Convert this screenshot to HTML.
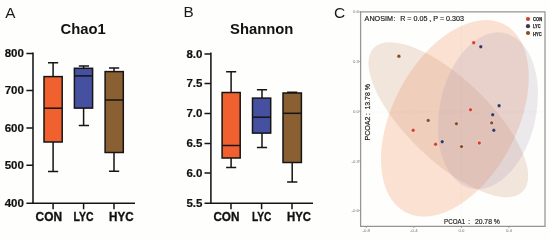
<!DOCTYPE html>
<html><head><meta charset="utf-8">
<style>
html,body{margin:0;padding:0;background:#fefefc;}
svg{display:block;font-family:"Liberation Sans",sans-serif;will-change:transform;}
</style></head>
<body>
<svg width="550" height="236" viewBox="0 0 550 236">
<rect width="550" height="236" fill="#fefefc"/>
<!-- Panel A -->
<text x="5.2" y="17.5" font-size="15.3" fill="#1a1a1a">A</text>
<text x="83.2" y="33.8" font-size="14.8" font-weight="bold" text-anchor="middle" fill="#111">Chao1</text>
<g stroke="#151515" fill="none">
<path d="M33 52.5 V203.9" stroke-width="1.55"/>
<path d="M32.2 203.2 H135" stroke-width="1.45"/>
<path d="M26.4 53.4 H33 M26.4 90.6 H33 M26.4 127.9 H33 M26.4 165.3 H33 M26.4 203.2 H33" stroke-width="1.5"/>
<path d="M53.1 203.2 V209.2 M83.6 203.2 V209.2 M114 203.2 V209.2" stroke-width="1.5"/>
</g>
<g font-size="11.5" font-weight="bold" text-anchor="end" fill="#111" stroke="#111" stroke-width="0.2">
<text x="23.9" y="57.4">800</text>
<text x="23.9" y="94.3">700</text>
<text x="23.9" y="131.5">600</text>
<text x="23.9" y="169">500</text>
<text x="23.9" y="206.8">400</text>
</g>
<g font-size="12.8" font-weight="bold" fill="#111" stroke="#111" stroke-width="0.35">
<text x="35.6" y="221.4" textLength="26.4" lengthAdjust="spacingAndGlyphs">CON</text>
<text x="73.6" y="221.4" textLength="20" lengthAdjust="spacingAndGlyphs">LYC</text>
<text x="109" y="221.4" textLength="24.6" lengthAdjust="spacingAndGlyphs">HYC</text>
</g>
<g stroke="#151515" stroke-width="1.5">
<!-- CON A -->
<path d="M53.1 62.7 V76.6 M48 62.7 H58.2 M53.1 142 V171.6 M48 171.6 H58.2"/>
<rect x="44" y="76.6" width="18.2" height="65.4" fill="#F0612F"/>
<path d="M44 108.2 H62.2"/>
<!-- LYC A -->
<path d="M83.6 66 V68.3 M78.8 66 H89 M83.6 108.1 V125.5 M78.8 125.5 H89"/>
<rect x="74.4" y="68.3" width="18.2" height="39.8" fill="#4650A0"/>
<path d="M74.4 75.9 H92.6"/>
<!-- HYC A -->
<path d="M114 68.1 V71.6 M109 68.1 H119.2 M114 152.5 V171.2 M109 171.2 H119.2"/>
<rect x="105.1" y="71.6" width="18.2" height="80.9" fill="#8A5F32"/>
<path d="M105.1 100 H123.3"/>
</g>

<!-- Panel B -->
<text x="183.6" y="17.4" font-size="15.3" fill="#1a1a1a">B</text>
<text x="261.7" y="33.5" font-size="14.8" font-weight="bold" text-anchor="middle" fill="#111">Shannon</text>
<g stroke="#151515" fill="none">
<path d="M210.9 52.5 V203.9" stroke-width="1.55"/>
<path d="M210.1 203.2 H313" stroke-width="1.45"/>
<path d="M204.5 53.9 H210.8 M204.5 83.6 H210.8 M204.5 113.4 H210.8 M204.5 143.5 H210.8 M204.5 173.1 H210.8 M204.5 203.2 H210.8" stroke-width="1.5"/>
<path d="M231 203.2 V209.2 M261.6 203.2 V209.2 M292 203.2 V209.2" stroke-width="1.5"/>
</g>
<g font-size="11.5" font-weight="bold" text-anchor="end" fill="#111" stroke="#111" stroke-width="0.2">
<text x="202.4" y="57.5">8.0</text>
<text x="202.4" y="87.2">7.5</text>
<text x="202.4" y="117">7.0</text>
<text x="202.4" y="147.1">6.5</text>
<text x="202.4" y="176.7">6.0</text>
<text x="202.4" y="207">5.5</text>
</g>
<g font-size="12.8" font-weight="bold" fill="#111" stroke="#111" stroke-width="0.35">
<text x="213.4" y="221.4" textLength="26" lengthAdjust="spacingAndGlyphs">CON</text>
<text x="252" y="221.4" textLength="19.4" lengthAdjust="spacingAndGlyphs">LYC</text>
<text x="287" y="221.4" textLength="24" lengthAdjust="spacingAndGlyphs">HYC</text>
</g>
<g stroke="#151515" stroke-width="1.5">
<path d="M231.1 71.7 V92.5 M226.1 71.7 H236.2 M231.1 158 V167.5 M226.1 167.5 H236.2"/>
<rect x="222.1" y="92.5" width="18.1" height="65.5" fill="#F0612F"/>
<path d="M222.1 145.5 H240.2"/>
<path d="M262 89.7 V98.1 M256.9 89.7 H267.1 M262 133.1 V147.6 M256.9 147.6 H267.1"/>
<rect x="252.5" y="98.1" width="18.2" height="35" fill="#4650A0"/>
<path d="M252.5 117.2 H270.7"/>
<path d="M292.2 92.3 V93 M287.1 92.3 H297.3 M292.2 162.5 V182 M287.1 182 H297.3"/>
<rect x="283" y="93" width="18.4" height="69.5" fill="#8A5F32"/>
<path d="M283 113.3 H301.4"/>
</g>

<!-- Panel C -->
<text x="334" y="17.6" font-size="15.5" fill="#1a1a1a">C</text>
<g>
<ellipse cx="454.9" cy="118.3" rx="62.2" ry="106.1" transform="rotate(27.7 454.9 118.3)" fill="#F6A072" fill-opacity="0.3"/>
<ellipse cx="448.3" cy="119.7" rx="103.5" ry="40.9" transform="rotate(43.8 448.3 119.7)" fill="#C69276" fill-opacity="0.23"/>
<ellipse cx="487.9" cy="110.7" rx="48.3" ry="79.5" transform="rotate(12 487.9 110.7)" fill="#9C8AAA" fill-opacity="0.18"/>
</g>
<path d="M361 112 H545 M461.4 12 V226" stroke="#9a8a80" stroke-opacity="0.18" stroke-width="0.6" stroke-dasharray="1.2 1.2" fill="none"/>
<path d="M360.6 11.8 H545 V226.4 H360.6 Z" stroke="#959595" stroke-width="1.25" fill="none"/>
<g stroke="#858585" stroke-width="0.8">
<path d="M359.2 11.8 H360.6 M359.2 61.5 H360.6 M359.2 111.2 H360.6 M359.2 160.9 H360.6 M359.2 210.6 H360.6"/>
<path d="M366.3 226.4 V228 M413.9 226.4 V228 M461.4 226.4 V228 M508.9 226.4 V228"/>
</g>
<g>
<circle cx="473.7" cy="42.7" r="1.95" fill="#D83A2C" stroke="#fff" stroke-opacity="0.5" stroke-width="0.9"/>
<circle cx="480.8" cy="46.8" r="1.95" fill="#3B3658" stroke="#fff" stroke-opacity="0.5" stroke-width="0.9"/>
<circle cx="398.9" cy="56.2" r="1.95" fill="#8A4A26" stroke="#fff" stroke-opacity="0.5" stroke-width="0.9"/>
<circle cx="470.5" cy="109.8" r="1.95" fill="#D83A2C" stroke="#fff" stroke-opacity="0.5" stroke-width="0.9"/>
<circle cx="499.1" cy="105.7" r="1.95" fill="#3B3658" stroke="#fff" stroke-opacity="0.5" stroke-width="0.9"/>
<circle cx="492.7" cy="114.8" r="1.95" fill="#3B3658" stroke="#fff" stroke-opacity="0.5" stroke-width="0.9"/>
<circle cx="491.7" cy="122.9" r="1.95" fill="#8A4A26" stroke="#fff" stroke-opacity="0.5" stroke-width="0.9"/>
<circle cx="493.8" cy="130.3" r="1.95" fill="#3B3658" stroke="#fff" stroke-opacity="0.5" stroke-width="0.9"/>
<circle cx="428.2" cy="120.4" r="1.95" fill="#8A4A26" stroke="#fff" stroke-opacity="0.5" stroke-width="0.9"/>
<circle cx="456.4" cy="123.8" r="1.95" fill="#8A4A26" stroke="#fff" stroke-opacity="0.5" stroke-width="0.9"/>
<circle cx="413.2" cy="130.3" r="1.95" fill="#D83A2C" stroke="#fff" stroke-opacity="0.5" stroke-width="0.9"/>
<circle cx="435.6" cy="144.3" r="1.95" fill="#D83A2C" stroke="#fff" stroke-opacity="0.5" stroke-width="0.9"/>
<circle cx="442.2" cy="141.7" r="1.95" fill="#3B3658" stroke="#fff" stroke-opacity="0.5" stroke-width="0.9"/>
<circle cx="461.5" cy="146.6" r="1.95" fill="#8A4A26" stroke="#fff" stroke-opacity="0.5" stroke-width="0.9"/>
<circle cx="479.3" cy="143" r="1.95" fill="#D83A2C" stroke="#fff" stroke-opacity="0.5" stroke-width="0.9"/>
</g>
<g fill="#1a1a1a" font-size="7.2" stroke="#1a1a1a" stroke-width="0.18">
<text x="364.6" y="20.8">ANOSIM<tspan x="393.6">:</tspan></text>
<text x="400.2" y="20.8" textLength="63.8" lengthAdjust="spacingAndGlyphs">R = 0.05 , P = 0.303</text>
<g font-size="7.9">
<text x="444.1" y="223.8" textLength="21.1" lengthAdjust="spacingAndGlyphs">PCOA1</text>
<text x="468" y="223.8">:</text>
<text x="474.9" y="223.8" textLength="25" lengthAdjust="spacingAndGlyphs">20.78 %</text>
<g transform="translate(370.4 140.5) rotate(-90)">
<text x="0" y="0" textLength="24" lengthAdjust="spacingAndGlyphs">PCOA2</text>
<text x="25.3" y="0">:</text>
<text x="31" y="0" textLength="25.4" lengthAdjust="spacingAndGlyphs">13.78 %</text>
</g>
</g>
</g>
<g>
<circle cx="528" cy="19" r="2.1" fill="#D83A2C"/>
<circle cx="528" cy="26.2" r="2.1" fill="#3B3658"/>
<circle cx="528" cy="33" r="2.1" fill="#8A4A26"/>
</g>
<g font-size="4.8" font-weight="bold" fill="#222" stroke="#222" stroke-width="0.25">
<text x="533.1" y="20.6" textLength="9" lengthAdjust="spacingAndGlyphs">CON</text>
<text x="533.1" y="28" textLength="7.4" lengthAdjust="spacingAndGlyphs">LYC</text>
<text x="533.1" y="35.5" textLength="8.5" lengthAdjust="spacingAndGlyphs">HYC</text>
</g>
<g font-size="4.3" fill="#707070" text-anchor="middle">
<text x="366.3" y="231.6">-0.8</text>
<text x="413.9" y="231.6">-0.4</text>
<text x="461.4" y="231.6">0.0</text>
<text x="508.9" y="231.6">0.4</text>
</g>
<g font-size="4.3" fill="#707070" text-anchor="end">
<text x="359" y="13.4">0.6</text>
<text x="359" y="63.1">0.3</text>
<text x="359" y="112.8">0.0</text>
<text x="359" y="162.5">-0.3</text>
<text x="359" y="212.2">-0.6</text>
</g>
</svg>
</body></html>
